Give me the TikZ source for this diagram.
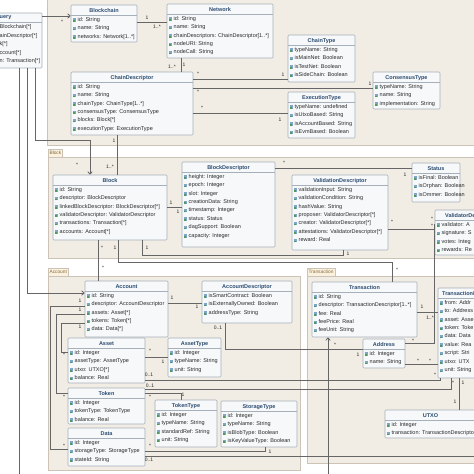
\documentclass[tikz,border=0pt]{standalone}
\usepackage{fontspec}
\setmainfont{Liberation Sans}
\usetikzlibrary{arrows.meta,fit,calc}
\definecolor{pkgfill}{HTML}{F1ECE4}
\definecolor{pkgline}{HTML}{CCC2B5}
\definecolor{tabfill}{HTML}{FAF1DE}
\definecolor{tabtext}{HTML}{8A6A3A}
\definecolor{boxfill}{HTML}{F6F8FA}
\definecolor{boxline}{HTML}{A6B0BA}
\definecolor{ttlc}{HTML}{2B4C70}
\definecolor{txtc}{HTML}{2A2A2A}
\definecolor{connc}{HTML}{666666}
\definecolor{icb}{HTML}{7EA4C6}
\definecolor{icg}{HTML}{4E9A5A}
\newcommand\ic{\rlap{\textcolor{icb}{\rule[-0.5pt]{3.4pt}{3.4pt}}}\textcolor{icg}{\rule[-0.5pt]{1.6pt}{1.6pt}}\hspace{3.2pt}}
\newcommand\umlc[7]{%
  \node[clsbox, fit={(#2,#3) (#4,#5)}] (#1) {};
  \node[ttl] (#1-t) at ([yshift=-6pt]#1.north) {#6};
  \draw[sepl] ([yshift=-11pt]#1.north west) -- ([yshift=-11pt]#1.north east);
  \node[atr] (#1-a) at ([xshift=2pt,yshift=-12.3pt]#1.north west) {#7};
}
\newcommand\umlcw[8]{%
  \node[clsbox, fit={(#2,#3) (#4,#5)}] (#1) {};
  \node[ttl, anchor=west] (#1-t) at ([yshift=-6pt]#1.north west -| #7,0) {#6};
  \draw[sepl] ([yshift=-11pt]#1.north west) -- ([yshift=-11pt]#1.north east);
  \node[atr] (#1-a) at ([xshift=2pt,yshift=-12.3pt]#1.north west) {#8};
}
\tikzset{
 clsbox/.style={draw=boxline, fill=boxfill, line width=0.6pt, inner sep=0pt, rounded corners=1pt},
 ttl/.style={font=\bfseries\fontsize{5.5}{6}\selectfont, text=ttlc, inner sep=0pt},
 sepl/.style={draw=boxline, line width=0.5pt},
 atr/.style={anchor=north west, align=left, inner sep=0pt, font=\fontsize{5.5}{8.43}\selectfont, text=txtc},
 ml/.style={font=\fontsize{5}{5}\selectfont, text=txtc, inner sep=0pt},
 conn/.style={draw=connc, line width=0.8pt},
 nav/.style={conn, -{Straight Barb[length=2.5pt,width=4.5pt]}},
 pkg/.style={draw=pkgline, fill=pkgfill, line width=0.6pt, inner sep=0pt},
 pkgtab/.style={draw=pkgline, fill=tabfill, line width=0.5pt, font=\fontsize{4.8}{5}\selectfont, text=tabtext, inner sep=1.3pt, anchor=south west, minimum height=7.5pt},
}
\begin{document}
\begin{tikzpicture}[x=1pt,y=-1pt]
\useasboundingbox (0,0) rectangle (474,474);
\clip (0,0) rectangle (474,474);
\fill[white] (0,0) rectangle (474,474);
% packages
\node[pkg, fit={(47,-5) (480,145)}] (pkgTop) {};
\node[pkg, fit={(48,157) (480,258)}] (pkgBlock) {};
\node[pkgtab] (tabBlock) at (48,157) {Block};
\node[pkg, fit={(48,276) (300,470)}] (pkgAccount) {};
\node[pkgtab] (tabAccount) at (48,276) {Account};
\node[pkg, fit={(307,276) (480,463)}] (pkgTx) {};
\node[pkgtab] (tabTx) at (307,276) {Transaction};
% Query (cut at left edge)
\node[clsbox, fit={(-5,13) (42,68)}] (query) {};
\draw[sepl] (-5,22) -- (query.east |- 0,22);
\node[ttl, anchor=west] (query-t) at (-0.5,17.5) {uery};
\node[atr] (query-a) at (-0.5,24.6) {Blockchain[*]\\ainDescriptor[*]\\k[*]\\ccount[*]\\n: Transaction[*]};
% classes
\umlc{blockchain}{71}{5}{137}{42}{Blockchain}{\ic id: String\\\ic name: String\\\ic networks: Network[1..*]}
\umlc{network}{167}{4}{273}{58}{Network}{\ic id: String\\\ic name: String\\\ic chainDescriptors: ChainDescriptor[1..*]\\\ic nodeURI: String\\\ic nodeCall: String}
\umlc{chaindesc}{71}{72}{193}{135}{ChainDescriptor}{\ic id: String\\\ic name: String\\\ic chainType: ChainType[1..*]\\\ic consensusType: ConsensusType\\\ic blocks: Block[*]\\\ic executionType: ExecutionType}
\umlc{chaintype}{288}{35}{355}{82}{ChainType}{\ic typeName: String\\\ic isMainNet: Boolean\\\ic isTestNet: Boolean\\\ic isSideChain: Boolean}
\umlc{consensus}{373}{72}{440}{109}{ConsensusType}{\ic typeName: String\\\ic name: String\\\ic implementation: String}
\umlc{exectype}{288}{92}{355}{138}{ExecutionType}{\ic typeName: undefined\\\ic isUtxoBased: String\\\ic isAccountBased: String\\\ic isEvmBased: Boolean}
\umlc{block}{53}{175}{167}{240}{Block}{\ic id: String\\\ic descriptor: BlockDescriptor\\\ic linkedBlockDescriptor: BlockDescriptor[*]\\\ic validatorDescriptor: ValidatorDescriptor\\\ic transactions: Transaction[*]\\\ic accounts: Account[*]}
\umlc{blockdesc}{182}{162}{275}{247}{BlockDescriptor}{\ic height: Integer\\\ic epoch: Integer\\\ic slot: Integer\\\ic creationData: String\\\ic timestamp: Integer\\\ic status: Status\\\ic dagSupport: Boolean\\\ic capacity: Integer}
\umlc{status}{412}{163}{460}{202}{Status}{\ic isFinal: Boolean\\\ic isOrphan: Boolean\\\ic isOmmer: Boolean}
\umlc{validation}{292}{175}{388}{250}{ValidationDescriptor}{\ic validationInput: String\\\ic validationCondition: String\\\ic hashValue: String\\\ic proposer: ValidatorDescriptor[*]\\\ic creator: ValidatorDescriptor[*]\\\ic attestations: ValidatorDescriptor[*]\\\ic reward: Real}
\umlcw{validator}{435}{210}{505}{255}{ValidatorDe}{445}{\ic validator: A\\\ic signature: S\\\ic votes: Integ\\\ic rewards: Re}
\umlc{account}{85}{281}{168}{337}{Account}{\ic id: String\\\ic descriptor: AccountDescriptor\\\ic assets: Asset[*]\\\ic tokens: Token[*]\\\ic data: Data[*]}
\umlc{accdesc}{202}{281}{292}{323}{AccountDescriptor}{\ic isSmartContract: Boolean\\\ic isExternallyOwned: Boolean\\\ic addressType: String}
\umlc{asset}{68}{338}{145}{383}{Asset}{\ic id: Integer\\\ic assetType: AssetType\\\ic utxo: UTXO[*]\\\ic balance: Real}
\umlc{assettype}{168}{338}{221}{377}{AssetType}{\ic id: Integer\\\ic typeName: String\\\ic unit: String}
\umlc{token}{68}{388}{145}{424}{Token}{\ic id: Integer\\\ic tokenType: TokenType\\\ic balance: Real}
\umlc{tokentype}{155}{400}{217}{447}{TokenType}{\ic id: Integer\\\ic typeName: String\\\ic standardRef: String\\\ic unit: String}
\umlc{storagetype}{221}{401}{297}{447}{StorageType}{\ic id: Integer\\\ic typeName: String\\\ic isBlobType: Boolean\\\ic isKeyValueType: Boolean}
\umlc{data}{68}{428}{145}{466}{Data}{\ic id: Integer\\\ic storageType: StorageType\\\ic stateId: String}
\umlc{transaction}{312}{282}{417}{337}{Transaction}{\ic id: String\\\ic descriptor: TransactionDescriptor[1..*]\\\ic fee: Real\\\ic feePrice: Real\\\ic feeUnit: String}
\umlc{address}{363}{339}{405}{368}{Address}{\ic id: Integer\\\ic name: String}
\umlcw{txbody}{438}{288}{490}{378}{TransactionB}{442}{\ic from: Addr\\\ic to: Address\\\ic asset: Asse\\\ic token: Toke\\\ic data: Data\\\ic value: Rea\\\ic script: Stri\\\ic utxo: UTX\\\ic unit: String}
\umlc{utxo}{385}{410}{476}{438}{UTXO}{\ic id: Integer\\\ic transaction: TransactionDescripto}
% connectors
\draw[nav] (query.east |- 0,16) -- (blockchain.west |- 0,16);
\draw[nav] (query.south -| 35,0) -- (35,140) -- (90,140) -- (block.north -| 90,0);
\draw[nav] (query.south -| 27,0) |- (account.west |- 0,293);
\draw[nav] (query.south -| 19,0) -- (19,485) -- (328,485) -- (transaction.south -| 328,0);
\draw[conn] (blockchain.east |- 0,22) -- (network.west |- 0,22);
\draw[conn] (network.south -| 181,0) -- (chaindesc.north -| 181,0);
\draw[conn] (chaindesc.east |- 0,79) -- (chaintype.west |- 0,79);
\draw[conn] (chaindesc.east |- 0,88) -- (consensus.west |- 0,88);
\draw[conn] (chaindesc.east |- 0,113) -- (exectype.west |- 0,113);
\draw[conn] (chaindesc.south -| 117,0) -- (block.north -| 117,0);
\draw[conn] (block.east |- 0,207) -- (blockdesc.west |- 0,207);
\draw[conn] (blockdesc.east |- 0,168) -- (status.west |- 0,168);
\draw[conn] (validation.east |- 0,229) -- (validator.west |- 0,229);
\draw[conn] (block.south -| 98,0) -- (account.north -| 98,0);
\draw[conn] (block.south -| 118,0) -- (118,262) -- (392,262) -- (transaction.north -| 392,0);
\draw[conn] (block.south -| 142,0) -- (142,255) -- (343,255) -- (validation.south -| 343,0);
\draw[conn] (address.east |- 0,343) -- (434,343) -- (434,224) -- (validator.west |- 0,224);
\draw[conn] (account.east |- 0,303) -- (accdesc.west |- 0,303);
\draw[conn] (accdesc.south -| 225,0) |- (address.west |- 0,349);
\draw[conn] (account.west |- 0,323) -- (61,323) |- (asset.west |- 0,352);
\draw[conn] (account.west |- 0,314) -- (56,314) |- (token.west |- 0,393);
\draw[conn] (account.west |- 0,306) -- (50,306) |- (data.west |- 0,449);
\draw[conn] (asset.east |- 0,357) -- (assettype.west |- 0,357);
\draw[conn] (asset.east |- 0,380) -| (txbody.south -| 440,0);
\draw[conn] (token.east |- 0,389) -| (txbody.south -| 451,0);
\draw[conn] (data.east |- 0,456) -| (txbody.south -| 485,0);
\draw[conn] (token.east |- 0,393) -| (tokentype.north -| 181,0);
\draw[conn] (data.east |- 0,451) -| (storagetype.south -| 265,0);
\draw[conn] (transaction.east |- 0,312) -- (txbody.west |- 0,312);
\draw[conn] (address.east |- 0,364) -- (txbody.west |- 0,364);
\draw[conn] (txbody.south -| 459,0) -- (utxo.north -| 459,0);
% multiplicities
\node[ml] (m1) at (62,22) {*};
\node[ml] (m2) at (147,18) {1};
\node[ml] (m3) at (157,27) {1..*};
\node[ml] (m4) at (172,67) {1..*};
\node[ml] (m5) at (184,65) {1};
\node[ml] (m6) at (198,74) {*};
\node[ml] (m7) at (283,75) {1};
\node[ml] (m8) at (198,92) {*};
\node[ml] (m9) at (370,84) {1};
\node[ml] (m10) at (202,108) {*};
\node[ml] (m11) at (280,120) {1};
\node[ml] (m12) at (114,141) {1};
\node[ml] (m13) at (110,167) {1..*};
\node[ml] (m14) at (77,165) {*};
\node[ml] (m15) at (171,203) {1};
\node[ml] (m16) at (178,212) {1};
\node[ml] (m17) at (284,163) {*};
\node[ml] (m18) at (405,175) {1};
\node[ml] (m19) at (392,222) {*};
\node[ml] (m20) at (432,219) {*};
\node[ml] (m21) at (432,226) {*};
\node[ml] (m22) at (102,248) {*};
\node[ml] (m23) at (115,248) {1};
\node[ml] (m24) at (147,248) {1};
\node[ml] (m25) at (348,254) {1};
\node[ml] (m26) at (103,268) {*};
\node[ml] (m27) at (397,270) {*};
\node[ml] (m28) at (172,298) {1};
\node[ml] (m29) at (197,307) {1};
\node[ml] (m30) at (80,301) {1};
\node[ml] (m31) at (80,310) {1};
\node[ml] (m32) at (80,327) {1};
\node[ml] (m33) at (64,355) {*};
\node[ml] (m34) at (150,351) {*};
\node[ml] (m35) at (163,362) {1};
\node[ml] (m36) at (149,375) {0..1};
\node[ml] (m37) at (150,386) {0..1};
\node[ml] (m38) at (435,375) {*};
\node[ml] (m39) at (453,383) {*};
\node[ml] (m40) at (463,383) {1};
\node[ml] (m41) at (455,402) {1};
\node[ml] (m42) at (64,397) {*};
\node[ml] (m43) at (150,397) {*};
\node[ml] (m44) at (183,395) {1};
\node[ml] (m45) at (64,446) {*};
\node[ml] (m46) at (150,446) {*};
\node[ml] (m47) at (270,452) {1};
\node[ml] (m48) at (149,460) {0..1};
\node[ml] (m49) at (218,328) {0..1};
\node[ml] (m50) at (358,355) {1};
\node[ml] (m51) at (335,345) {*};
\node[ml] (m52) at (413,341) {*};
\node[ml] (m53) at (422,307) {1};
\node[ml] (m54) at (430,318) {1..*};
\node[ml] (m55) at (418,361) {*};
\node[ml] (m56) at (430,361) {*};
\end{tikzpicture}
\end{document}
